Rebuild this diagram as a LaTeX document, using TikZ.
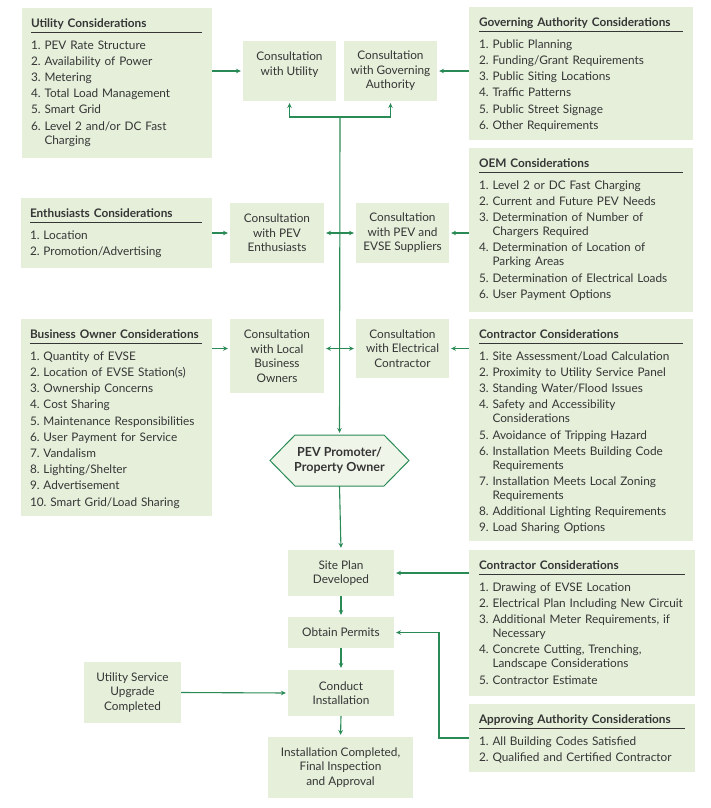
\documentclass[tikz,border=0pt]{standalone}
\usepackage{fontspec}
\setmainfont{Lato}
\usetikzlibrary{arrows.meta,calc}
\definecolor{boxfill}{HTML}{E5EFDA}
\definecolor{txt}{HTML}{363636}
\definecolor{arrg}{HTML}{2A8A55}
\newlength\numw \setlength\numw{13.5pt}
\newlength\itemgap \setlength\itemgap{2.2pt}
\newcommand\hdr[1]{\noindent\rule[-3pt]{0pt}{12pt}{\bfseries #1}\par\vspace{1.4pt}\hrule height 0.9pt\vspace{5.5pt}}
\newcommand\itm[2]{\par\vspace{\itemgap}\noindent\rule[-3.5pt]{0pt}{10pt}\makebox[\numw][l]{#1}#2}
\newcommand\cnt[1]{\par\noindent\rule[-3.5pt]{0pt}{10pt}\hspace*{\numw}#1}
\tikzset{
  cbox/.style={fill=boxfill, draw=none, inner sep=0pt, outer sep=0pt, anchor=north west},
  ctext/.style={inner sep=0pt, outer sep=0pt, anchor=north west, text=txt,
    font=\fontsize{11.8}{14}\selectfont\setlength\parskip{0pt}},
  cons/.style={fill=boxfill, draw=none, inner sep=0pt, outer sep=0pt, text=txt, align=center,
    font=\fontsize{11.8}{14.5}\selectfont},
  arr/.style={draw=arrg, line width=1.1pt, -{Stealth[length=4.8pt,width=4.6pt]}, shorten >=2.2pt},
  darr/.style={draw=arrg, line width=1.1pt, {Stealth[length=4.8pt,width=4.6pt]}-{Stealth[length=4.8pt,width=4.6pt]}, shorten >=2.2pt, shorten <=2.2pt},
  hexline/.style={draw=arrg, line width=1pt, fill=boxfill!60!white}
}
\begin{document}
\begin{tikzpicture}[x=1pt,y=-1pt]
\useasboundingbox[fill=white] (0,0) rectangle (711,808);

% ---------- consideration boxes ----------
\node[cbox, minimum width=190, minimum height=150] (utilc) at (22,8) {};
\node[ctext, text width=171] (utilt) at ($(utilc.north west)+(9,10.65)$) {\hdr{Utility Considerations}%
\itm{1.}{PEV Rate Structure}\itm{2.}{Availability of Power}\itm{3.}{Metering}%
\itm{4.}{Total Load Management}\itm{5.}{Smart Grid}\itm{6.}{Level 2 and/or DC Fast}\cnt{Charging}};

\node[cbox, minimum width=224, minimum height=133] (gov) at (469,7) {};
\node[ctext, text width=204] (govt) at ($(gov.north west)+(10,10.65)$) {\hdr{Governing Authority Considerations}%
\itm{1.}{Public Planning}\itm{2.}{Funding/Grant Requirements}\itm{3.}{Public Siting Locations}%
\itm{4.}{Traffic Patterns}\itm{5.}{Public Street Signage}\itm{6.}{Other Requirements}};

\node[cbox, minimum width=191, minimum height=70] (enth) at (21,198) {};
\node[ctext, text width=172] (entht) at ($(enth.north west)+(9,10.65)$) {\hdr{Enthusiasts Considerations}%
\itm{1.}{Location}\itm{2.}{Promotion/Advertising}};

\node[cbox, minimum width=224, minimum height=164] (oem) at (469,148) {};
\node[ctext, text width=204] (oemt) at ($(oem.north west)+(10,10.65)$) {\hdr{OEM Considerations}%
\itm{1.}{Level 2 or DC Fast Charging}\itm{2.}{Current and Future PEV Needs}%
\itm{3.}{Determination of Number of}\cnt{Chargers Required}%
\itm{4.}{Determination of Location of}\cnt{Parking Areas}%
\itm{5.}{Determination of Electrical Loads}\itm{6.}{User Payment Options}};

\node[cbox, minimum width=191, minimum height=197] (bus) at (21,319) {};
\node[ctext, text width=172] (bust) at ($(bus.north west)+(9,10.65)$) {\hdr{Business Owner Considerations}%
\itm{1.}{Quantity of EVSE}\itm{2.}{Location of EVSE Station(s)}\itm{3.}{Ownership Concerns}%
\itm{4.}{Cost Sharing}\itm{5.}{Maintenance Responsibilities}\itm{6.}{User Payment for Service}%
\itm{7.}{Vandalism}\itm{8.}{Lighting/Shelter}\itm{9.}{Advertisement}%
\itm{}{\hspace*{-\numw}10.\ Smart Grid/Load Sharing}};

\node[cbox, minimum width=224, minimum height=222] (contr) at (469,319) {};
\node[ctext, text width=204] (contrt) at ($(contr.north west)+(10,10.65)$) {\hdr{Contractor Considerations}%
\itm{1.}{Site Assessment/Load Calculation}\itm{2.}{Proximity to Utility Service Panel}%
\itm{3.}{Standing Water/Flood Issues}\itm{4.}{Safety and Accessibility}\cnt{Considerations}%
\itm{5.}{Avoidance of Tripping Hazard}\itm{6.}{Installation Meets Building Code}\cnt{Requirements}%
\itm{7.}{Installation Meets Local Zoning}\cnt{Requirements}%
\itm{8.}{Additional Lighting Requirements}\itm{9.}{Load Sharing Options}};

\node[cbox, minimum width=226, minimum height=146] (contrb) at (469,550) {};
\node[ctext, text width=206] (contrbt) at ($(contrb.north west)+(10,10.65)$) {\hdr{Contractor Considerations}%
\itm{1.}{Drawing of EVSE Location}\itm{2.}{Electrical Plan Including New Circuit}%
\itm{3.}{Additional Meter Requirements, if}\cnt{Necessary}%
\itm{4.}{Concrete Cutting, Trenching,}\cnt{Landscape Considerations}%
\itm{5.}{Contractor Estimate}};

\node[cbox, minimum width=226, minimum height=68] (appr) at (469,704) {};
\node[ctext, text width=206] (apprt) at ($(appr.north west)+(10,10.65)$) {\hdr{Approving Authority Considerations}%
\itm{1.}{All Building Codes Satisfied}\itm{2.}{Qualified and Certified Contractor}};

% ---------- consultation / process boxes ----------
\node[cons, minimum width=93, minimum height=60] (cutil) at (289.5,71) {Consultation\\with Utility\\\mbox{}};
\node[cons, minimum width=93, minimum height=60] (cgov) at (390.5,71) {Consultation\\with Governing\\Authority};
\node[cons, minimum width=94, minimum height=60] (centh) at (277,233) {Consultation\\with PEV\\Enthusiasts};
\node[cons, minimum width=93, minimum height=60] (csup) at (402.5,233) {Consultation\\with PEV and\\EVSE Suppliers};
\node[cons, minimum width=94, minimum height=74] (cbus) at (277,356) {Consultation\\with Local\\Business\\Owners};
\node[cons, minimum width=93, minimum height=59] (celec) at (402.5,348.5) {Consultation\\with Electrical\\Contractor};

\coordinate (hc) at (339.5,460.5);
\draw[hexline] ($(hc)+(-69.5,0)$) -- ($(hc)+(-44.5,-25.5)$) -- ($(hc)+(44.5,-25.5)$) -- ($(hc)+(69.5,0)$) -- ($(hc)+(44.5,25.5)$) -- ($(hc)+(-44.5,25.5)$) -- cycle;
\node[cons, fill=none, minimum width=139, minimum height=51, font=\fontsize{12.5}{15.5}\selectfont\bfseries] (hex) at (hc) {PEV Promoter/\\Property Owner};

\node[cons, minimum width=106, minimum height=46] (site) at (341,573) {Site Plan\\Developed};
\node[cons, minimum width=106, minimum height=31] (perm) at (341,632.5) {Obtain Permits};
\node[cons, minimum width=106, minimum height=46] (inst) at (341,693) {Conduct\\Installation};
\node[cons, minimum width=145, minimum height=61] (done) at (340.5,767.5) {Installation Completed,\\Final Inspection\\and Approval};
\node[cons, minimum width=97, minimum height=61] (usu) at (132.5,692.5) {Utility Service\\Upgrade\\Completed};

% ---------- connectors ----------
\coordinate (j) at (340,117);
\draw[arr] (utilc.east |- cutil.west) -- (cutil.west);
\draw[arr] (gov.west |- cgov.east) -- (cgov.east);
\draw[arr] (j) -| (cutil.south);
\draw[arr] (j) -| (cgov.south);
\draw[arr] (j) -- (hex.north);
\draw[arr] (enth.east |- centh.west) -- (centh.west);
\draw[darr] (centh.east) -- (csup.west);
\draw[arr] (oem.west |- csup.east) -- (csup.east);
\draw[arr] (bus.east |- celec.west) -- (cbus.west |- celec.west);
\draw[darr] (cbus.east |- celec.west) -- (celec.west);
\draw[arr] (contr.west |- celec.east) -- (celec.east);
\draw[arr] (hex.south) -- (site.north);
\draw[arr] (contrb.west |- site.east) -- (site.east);
\draw[arr] (site.south) -- (perm.north);
\draw[arr] (perm.south) -- (inst.north);
\draw[arr] (inst.south) -- (done.north);
\draw[arr] (appr.west) -- ++(-30,0) |- (perm.east);
\draw[arr] (usu.east) -- (inst.west);
\end{tikzpicture}
\end{document}
